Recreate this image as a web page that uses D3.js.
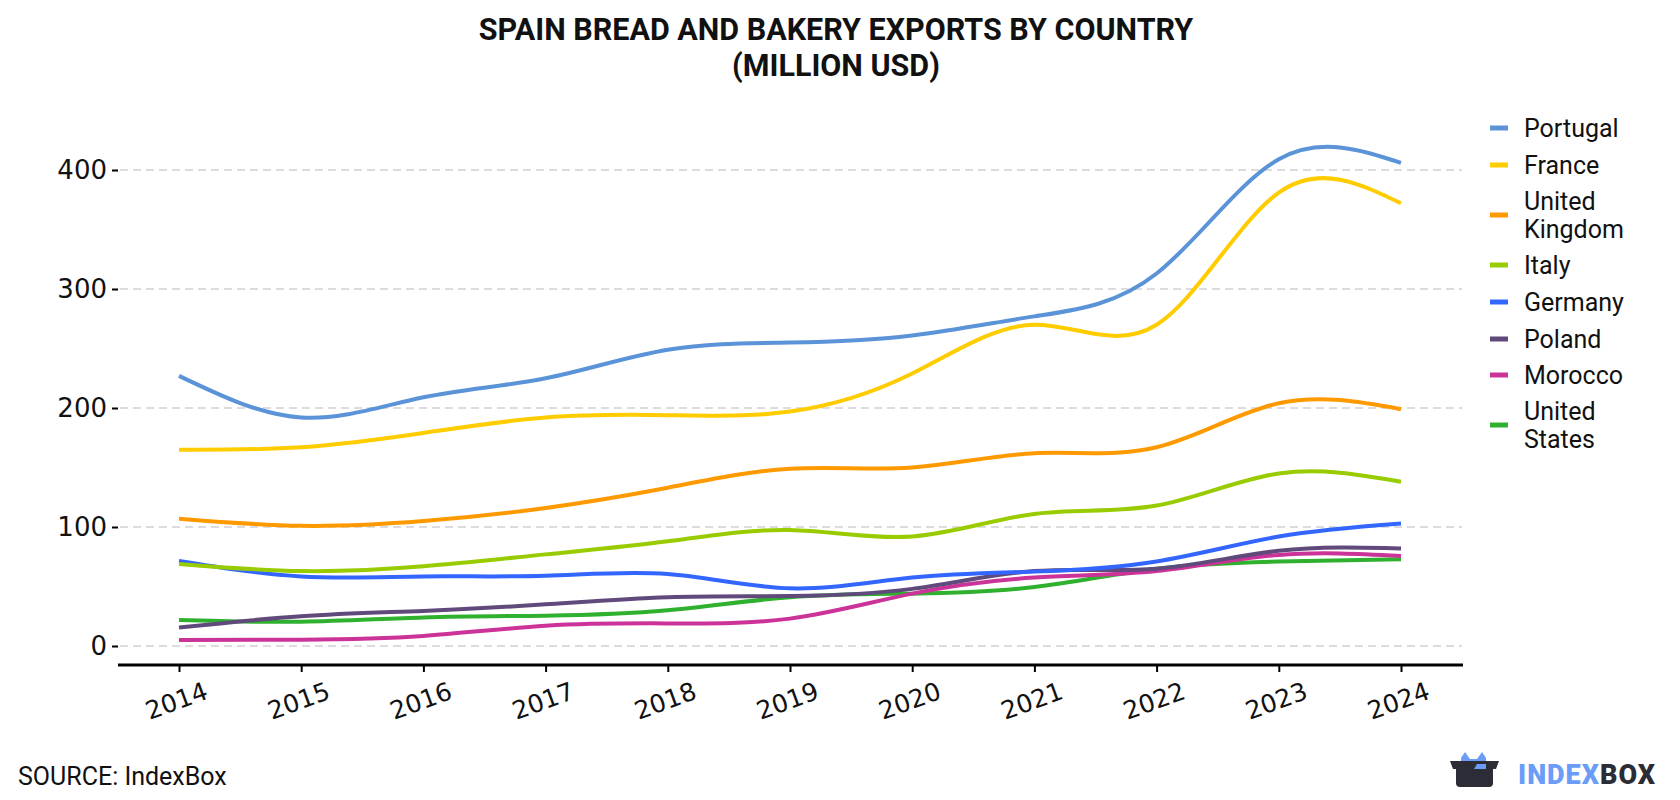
<!DOCTYPE html>
<html>
<head>
<style>
body { margin: 0; background: #fff; }
svg { display: block; }
.grid line { stroke: #dcdcdc; stroke-width: 2; stroke-dasharray: 8,5; }
.series path { fill: none; stroke-width: 4; }
</style>
<script src="https://d3js.org/d3.v7.min.js"></script>
</head>
<body>
<svg id="chart" width="1680" height="800"></svg>
<script>
var years = [2014, 2015, 2016, 2017, 2018, 2019, 2020, 2021, 2022, 2023, 2024];
var yTicks = [0, 100, 200, 300, 400];

var countries = ["Portugal", "France", "United Kingdom", "Italy", "Germany", "Poland", "Morocco", "United States"];
var colors = ["#5b93d8", "#ffcc00", "#ff9900", "#99cc00", "#3366ff", "#604a7b", "#cc3399", "#2fb02f"];

var portugal = [227, 192, 209, 225, 249, 255, 261, 277, 313, 409, 406];
var france   = [165, 167, 179, 192, 194, 197, 229, 270, 270, 381, 372];
var uk       = [107, 101, 105, 116, 133, 149, 150, 162, 167, 204, 199];
var italy    = [69, 63, 67, 77, 88, 97.5, 92, 111, 118, 145, 138];
var germany  = [71.5, 58.5, 58.5, 59, 60.5, 48.5, 57.5, 62.5, 71, 92, 103];
var poland   = [15.5, 25, 29.5, 35, 41, 42, 48, 63, 65, 80, 82];
var morocco  = [5, 5.3, 8.5, 17, 19, 23, 44, 57.5, 63, 76.5, 75.6];
var usa      = [21.8, 20.4, 24, 25.5, 30, 41, 44, 49.5, 65, 71, 73];

var seriesValues = [portugal, france, uk, italy, germany, poland, morocco, usa];

var svg = d3.select("#chart");

// scales
var x = d3.scaleLinear().domain([2014, 2024]).range([179, 1401]);
var y = d3.scaleLinear().domain([0, 400]).range([646, 170]);

// title
var title = svg.append("text")
  .attr("text-anchor", "middle")
  .style("font-family", "Roboto")
  .style("font-weight", "bold")
  .style("font-size", "30.5px")
  .attr("fill", "#111");
title.append("tspan").attr("x", 836).attr("y", 40).text("SPAIN BREAD AND BAKERY EXPORTS BY COUNTRY");
title.append("tspan").attr("x", 836).attr("y", 76).text("(MILLION USD)");

// gridlines
svg.append("g").attr("class", "grid")
  .selectAll("line")
  .data(yTicks)
  .enter()
  .append("line")
  .attr("x1", 120)
  .attr("x2", 1462)
  .attr("y1", function(d) { return y(d); })
  .attr("y2", function(d) { return y(d); });

// y axis (no domain line)
var yAxis = d3.axisLeft(y).tickValues(yTicks).tickSize(6).tickPadding(5);
var gy = svg.append("g").attr("transform", "translate(118,0)").call(yAxis);
gy.select(".domain").remove();
gy.selectAll(".tick line").attr("stroke", "#000").attr("stroke-width", 2);
gy.selectAll(".tick text")
  .style("font-family", "DejaVu Sans")
  .style("font-size", "26px")
  .attr("fill", "#111");

// x axis
var xAxis = d3.axisBottom(x).tickValues(years).tickFormat(d3.format("d")).tickSize(7).tickSizeOuter(0);
var gx = svg.append("g").attr("transform", "translate(0,665)").call(xAxis);
gx.select(".domain")
  .attr("d", "M118,0H1463")
  .attr("stroke", "#000")
  .attr("stroke-width", 3);
gx.selectAll(".tick line").attr("stroke", "#000").attr("stroke-width", 2);
gx.selectAll(".tick text")
  .style("font-family", "DejaVu Sans")
  .style("font-size", "25px")
  .attr("fill", "#111")
  .attr("text-anchor", "middle")
  .attr("dy", null)
  .attr("y", 0)
  .attr("transform", "translate(0,44) rotate(-20)");

// lines
var line = d3.line()
  .x(function(d, i) { return x(years[i]); })
  .y(function(d) { return y(d); })
  .curve(d3.curveNatural);

svg.append("g").attr("class", "series")
  .selectAll("path")
  .data(seriesValues.slice().reverse())
  .enter()
  .append("path")
  .attr("stroke", function(d, i) { return colors[seriesValues.length - 1 - i]; })
  .attr("d", line);

// legend
var legendRows = [
  {lines: ["Portugal"], y: 128},
  {lines: ["France"], y: 165},
  {lines: ["United", "Kingdom"], y: 215},
  {lines: ["Italy"], y: 265},
  {lines: ["Germany"], y: 302},
  {lines: ["Poland"], y: 339},
  {lines: ["Morocco"], y: 375},
  {lines: ["United", "States"], y: 425}
];
var legend = svg.append("g");
legendRows.forEach(function(r, i) {
  legend.append("line")
    .attr("x1", 1490).attr("x2", 1508)
    .attr("y1", r.y).attr("y2", r.y)
    .attr("stroke", colors[i]).attr("stroke-width", 5);
  var t = legend.append("text")
    .style("font-family", "Roboto")
    .style("font-size", "25px")
    .attr("fill", "#111");
  var n = r.lines.length;
  r.lines.forEach(function(s, k) {
    t.append("tspan")
      .attr("x", 1524)
      .attr("y", r.y + 9 + (k - (n - 1) / 2) * 28)
      .text(s);
  });
});

// source
svg.append("text")
  .attr("x", 18).attr("y", 785)
  .style("font-family", "Roboto")
  .style("font-size", "25px")
  .attr("fill", "#111")
  .text("SOURCE: IndexBox");

// logo
var logo = svg.append("g").attr("transform", "translate(1450,752)");
logo.append("path")
  .attr("d", "M11,6 L15,0 L20,7 L27,7 L32,0 L36,6 L36,16 L11,16 Z")
  .attr("fill", "#6b9cf7");
logo.append("path")
  .attr("d", "M0,9 L49,9 L46,17 L43,17 L43,31 Q43,35 39,35 L10,35 Q6,35 6,31 L6,17 L3,17 Z")
  .attr("fill", "#2b2c36");
logo.append("path")
  .attr("d", "M12,17 L24,17 L27,12 L36,12 L36,17")
  .attr("fill", "#6b9cf7");
var lt = svg.append("text")
  .attr("x", 1518).attr("y", 784)
  .style("font-family", "Roboto")
  .style("font-weight", "900")
  .style("font-size", "27px")
  .style("letter-spacing", "1px");
lt.append("tspan").attr("fill", "#6b9cf7").text("INDEX");
lt.append("tspan").attr("fill", "#2b2c36").text("BOX");
</script>
</body>
</html>
